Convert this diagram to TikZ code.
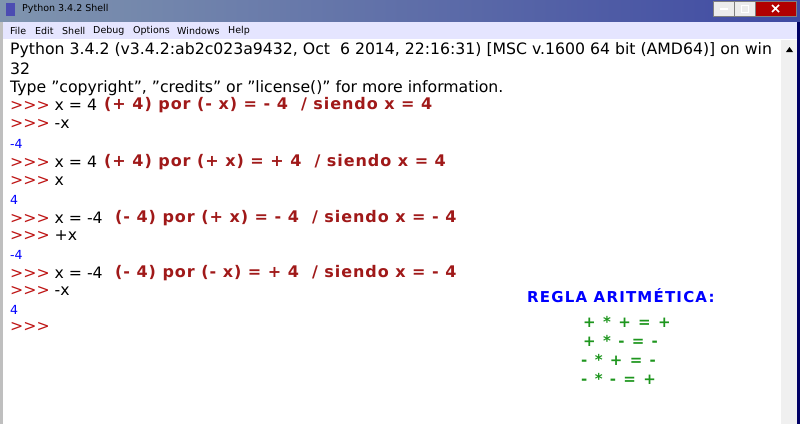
\documentclass[tikz,border=0pt]{standalone}
\usepackage{fontspec}
\setmainfont[Ligatures=ResetAll]{DejaVu Sans}
\definecolor{prompt}{RGB}{190,20,20}
\definecolor{cmt}{RGB}{160,25,25}
\definecolor{outb}{RGB}{0,0,255}
\definecolor{grn}{RGB}{30,150,30}
\definecolor{titlebg}{RGB}{150,175,205}
\newcommand{\pr}{\textcolor{prompt}{>{}>{}>}}
\newcommand{\qq}{{\char34}}
\begin{document}
\begin{tikzpicture}[x=1pt,y=-1pt,
  txt/.style={anchor=west,inner sep=0pt,font=\fontsize{15.7}{18}\selectfont},
  cmtxt/.style={anchor=west,inner sep=0pt,text=cmt,font=\fontsize{16}{18}\selectfont\bfseries\addfontfeature{LetterSpace=6}},
  outp/.style={anchor=west,inner sep=0pt,text=outb,font=\fontsize{12.5}{14}\selectfont},
  menu/.style={anchor=west,inner sep=0pt,font=\fontsize{9.5}{10}\selectfont},
  rule/.style={anchor=west,inner sep=0pt,text=grn,font=\fontsize{15}{16}\selectfont\bfseries\addfontfeature{LetterSpace=14}}]
\useasboundingbox (0,0) rectangle (800,424);
\shade[left color=titlebg!85!black,right color=titlebg!60!black!70!blue] (0,0) rectangle (800,22);
\node[menu] (title) at (22,9) {Python 3.4.2 Shell};
\fill[blue!40!gray] (6,3) rectangle (15,16);
\fill[white!85!gray,draw=gray] (713,1) rectangle (734,16);
\fill[white!85!gray,draw=gray] (734,1) rectangle (755,16);
\fill[red!70!black,draw=gray] (755,1) rectangle (796,16);
\draw[line width=1.5pt,white] (720,9) -- (728,9);
\draw[white,line width=1pt] (741,5) rectangle (748,12);
\draw[white,line width=1.5pt] (772,5) -- (779,12) (772,12) -- (779,5);
\fill[white!90!blue] (3,22) rectangle (797,39);
\node[menu] (m1) at (10,31) {File};
\node[menu] (m2) at (35,31) {Edit};
\node[menu] (m3) at (62,31) {Shell};
\node[menu] (m4) at (93,31) {Debug};
\node[menu] (m5) at (133,31) {Options};
\node[menu] (m6) at (177,31) {Windows};
\node[menu] (m7) at (228,31) {Help};
\fill[white] (3,40) rectangle (781,424);
\fill[white!94!black] (781,40) rectangle (797,424);
\fill[black] (786,52) -- (793,52) -- (789.5,47) -- cycle;
\fill[blue!40!black] (797,22) rectangle (800,424);
\fill[gray!50] (0,22) rectangle (3,424);
\node[txt] (l1) at (10,50) {Python 3.4.2 (v3.4.2:ab2c023a9432, Oct\ \ 6 2014, 22:16:31) [MSC v.1600 64 bit (AMD64)] on win};
\node[txt] (l2) at (10,69) {32};
\node[txt] (l3) at (10,88) {Type \qq copyright\qq, \qq credits\qq\ or \qq license()\qq\ for more information.};
\node[txt] (p1) at (10,105) {\pr\ x = 4};
\node[cmtxt] (c1) at (104,105) {(+ 4) por (- x) = - 4\ \ / siendo x = 4};
\node[txt] (p2) at (10,124) {\pr\ -x};
\node[outp] (o1) at (10,144) {-4};
\node[txt] (p3) at (10,162) {\pr\ x = 4};
\node[cmtxt] (c2) at (104,162) {(+ 4) por (+ x) = + 4\ \ / siendo x = 4};
\node[txt] (p4) at (10,181) {\pr\ x};
\node[outp] (o2) at (10,200) {4};
\node[txt] (p5) at (10,218) {\pr\ x = -4};
\node[cmtxt] (c3) at (115,218) {(- 4) por (+ x) = - 4\ \ / siendo x = - 4};
\node[txt] (p6) at (10,236) {\pr\ +x};
\node[outp] (o3) at (10,255) {-4};
\node[txt] (p7) at (10,273) {\pr\ x = -4};
\node[cmtxt] (c4) at (115,273) {(- 4) por (- x) = + 4\ \ / siendo x = - 4};
\node[txt] (p8) at (10,291) {\pr\ -x};
\node[outp] (o4) at (10,310) {4};
\node[txt] (p9) at (10,327) {\pr};
\node[anchor=west,inner sep=0pt,text=outb,font=\fontsize{15}{16}\selectfont\bfseries\addfontfeature{LetterSpace=8}] (rt) at (527,296) {REGLA ARITMÉTICA:};
\node[rule] (r1) at (583,322) {+ * + = +};
\node[rule] (r2) at (583,341) {+ * - = -};
\node[rule] (r3) at (581,360) {- * + = -};
\node[rule] (r4) at (581,379) {- * - = +};
\end{tikzpicture}
\end{document}
